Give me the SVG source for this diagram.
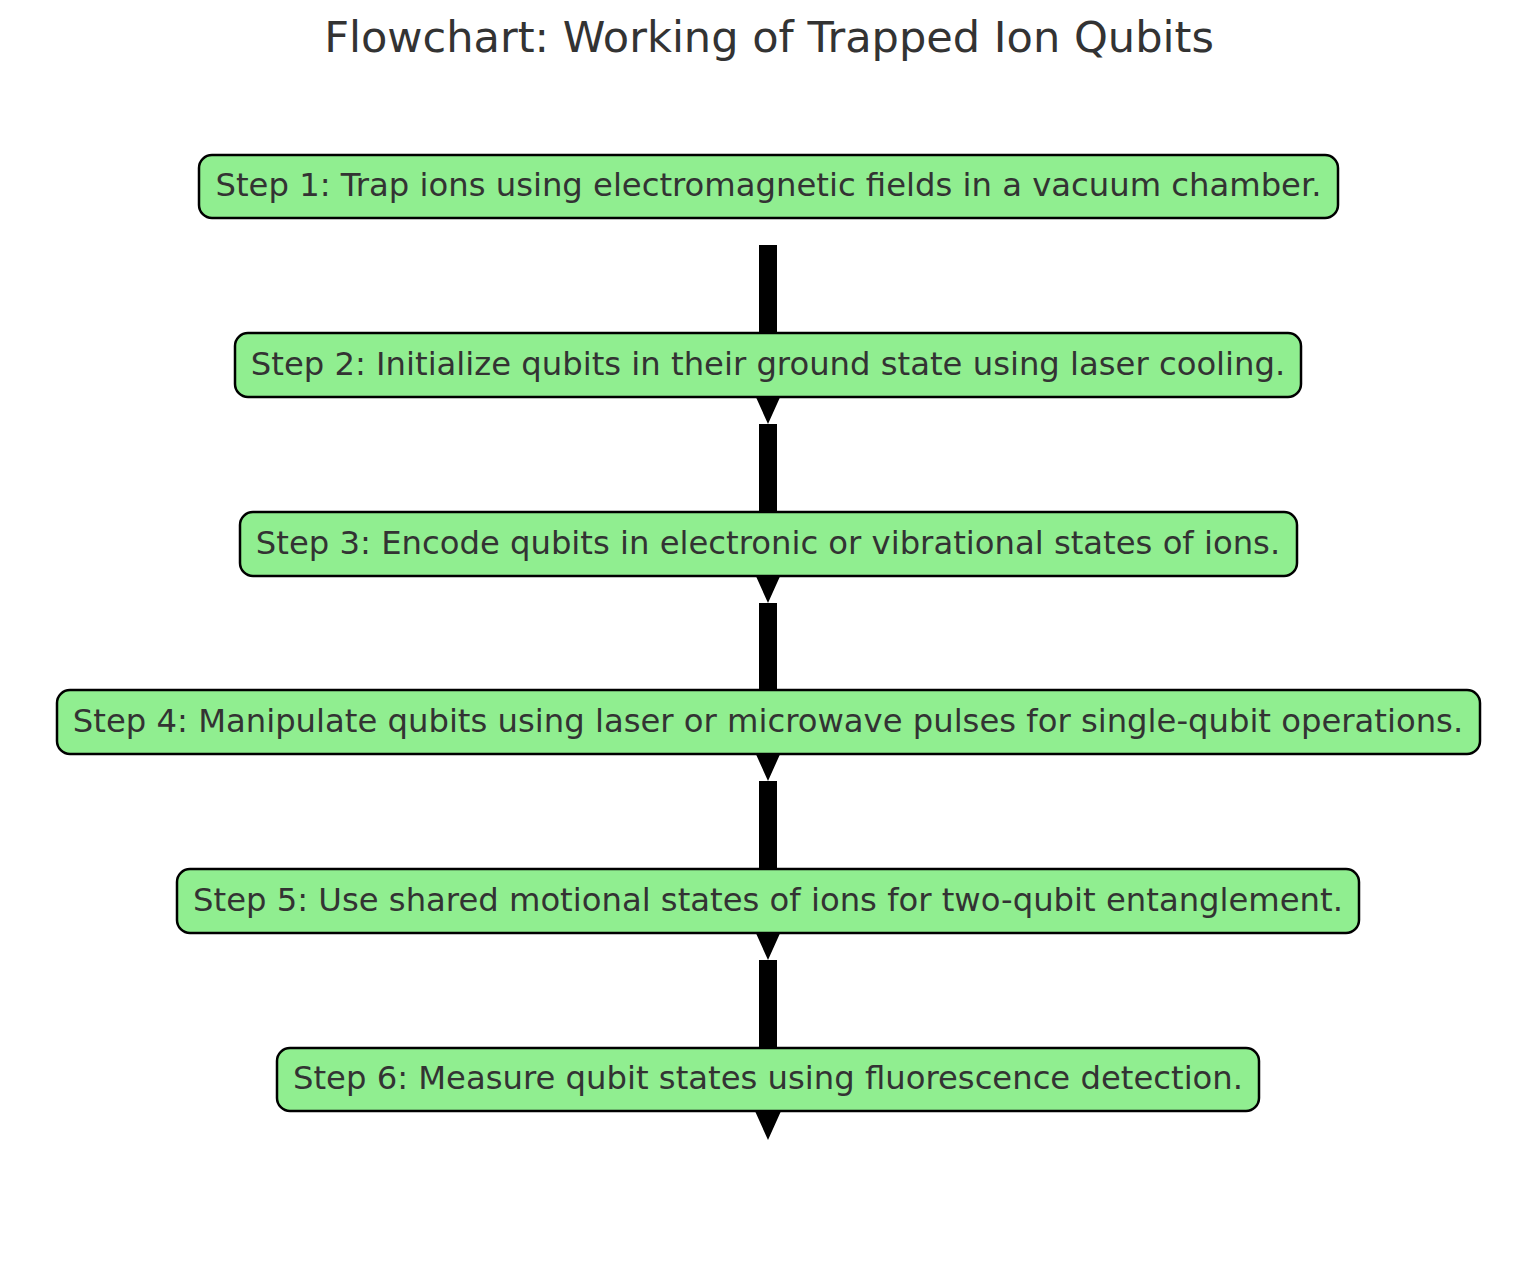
<svg xmlns="http://www.w3.org/2000/svg" width="1536" height="1278" viewBox="0 0 1536 1278">
<style>
.box{fill:#90EE90;stroke:#000;stroke-width:2.5}
.lbl{font-family:"DejaVu Sans",sans-serif;font-size:32.25px;fill:#333333;text-anchor:middle}
.title{font-family:"DejaVu Sans",sans-serif;font-size:43.1px;fill:#333333;text-anchor:middle}
.arr{fill:#000;stroke:none}
</style>
<rect width="1536" height="1278" fill="#fff"/>
<text class="title" x="769" y="52">Flowchart: Working of Trapped Ion Qubits</text>
<g id="connectors">
<path class="arr" d="M759,245 H777 V384 H786 L768,424 L750,384 H759 Z"/>
<path class="arr" d="M759,424 H777 V563 H786 L768,603 L750,563 H759 Z"/>
<path class="arr" d="M759,603 H777 V741 H786 L768,781 L750,741 H759 Z"/>
<path class="arr" d="M759,781 H777 V920 H786 L768,960 L750,920 H759 Z"/>
<path class="arr" d="M759,960 H777 V1100 H786 L768,1140 L750,1100 H759 Z"/>
</g>
<g id="step1">
<rect class="box" x="199" y="155" width="1139" height="63" rx="13"/>
<text class="lbl" x="768.5" y="196">Step 1: Trap ions using electromagnetic fields in a vacuum chamber.</text>
</g>
<g id="step2">
<rect class="box" x="235" y="333" width="1066" height="64" rx="13"/>
<text class="lbl" x="768" y="374.5">Step 2: Initialize qubits in their ground state using laser cooling.</text>
</g>
<g id="step3">
<rect class="box" x="240" y="512" width="1057" height="64" rx="13"/>
<text class="lbl" x="768" y="553.5">Step 3: Encode qubits in electronic or vibrational states of ions.</text>
</g>
<g id="step4">
<rect class="box" x="57" y="690" width="1423" height="64" rx="13"/>
<text class="lbl" x="768" y="731.5">Step 4: Manipulate qubits using laser or microwave pulses for single-qubit operations.</text>
</g>
<g id="step5">
<rect class="box" x="177" y="869" width="1182" height="64" rx="13"/>
<text class="lbl" x="768" y="910.5">Step 5: Use shared motional states of ions for two-qubit entanglement.</text>
</g>
<g id="step6">
<rect class="box" x="277" y="1048" width="982" height="63" rx="13"/>
<text class="lbl" x="768" y="1089">Step 6: Measure qubit states using fluorescence detection.</text>
</g>
</svg>
